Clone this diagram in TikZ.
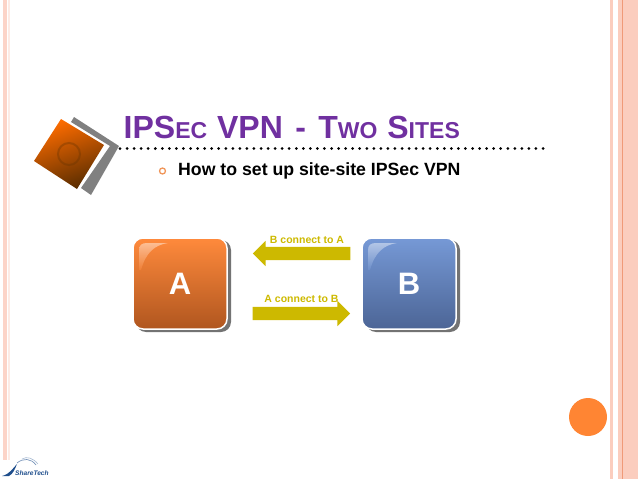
\documentclass[tikz,border=0pt]{standalone}
\usepackage{fontspec}
\setmainfont{Liberation Sans}
\usetikzlibrary{shapes.arrows,shadings,calc}
\definecolor{stripe}{HTML}{FBCDBE}
\definecolor{stripedark}{HTML}{F09A78}
\definecolor{titlepurple}{HTML}{7030A0}
\definecolor{arrowgold}{HTML}{CDB900}
\definecolor{bulletorange}{HTML}{F0965A}
\definecolor{circleorange}{HTML}{FF8533}
\definecolor{atop}{HTML}{FF8A3C}
\definecolor{abot}{HTML}{B0561F}
\definecolor{btop}{HTML}{7699D6}
\definecolor{bbot}{HTML}{4C6596}
\definecolor{logoblue}{HTML}{1F4E8C}
\newcommand{\titlelarge}{\fontsize{32}{33}\selectfont}
\newcommand{\titlesmall}{\fontsize{23}{24}\selectfont}
\tikzset{
  x=1pt,y=-1pt,
  band/.style={fill=stripe,draw=none},
  site/.style={rounded corners=10pt,draw=white,line width=1.5pt,minimum width=94pt,minimum height=91pt,font=\bfseries\fontsize{31}{31}\selectfont,text=white},
  backing/.style={fill=black!55,rounded corners=10pt},
  flow/.style={fill=arrowgold,draw=none,single arrow,minimum height=97.5pt,single arrow head extend=6pt,single arrow tip angle=90,inner sep=6.5pt},
  flowtext/.style={font=\bfseries\fontsize{10.5}{11}\selectfont,text=arrowgold,inner sep=0pt},
}
\begin{document}
\begin{tikzpicture}
\useasboundingbox (0,0) rectangle (638,479);
% stripes
\fill[stripe!85] (2.5,0) rectangle (6.5,460);
\fill[stripe!40] (8,0) rectangle (10,460);
\fill[band] (610,0) rectangle (613,479);
\fill[band] (617.5,0) rectangle (638,479);
\fill[stripedark] (621.8,0) rectangle (623,479);
% emblem
\fill[black!50] (74,117) -- (119,146) -- (91,195) -- (81,188) -- (110,146) -- (71,122) -- cycle;
\shade[left color=orange!85!red,right color=black!65!orange,shading angle=20] (61,119) -- (104,145) -- (77,189) -- (34,161) -- cycle;
\draw[black!60!orange,opacity=.35,line width=2pt] (69,154) circle (11);
% title
\node[anchor=base west,inner sep=0pt,text=titlepurple,font=\bfseries] (title) at (123.5,138.5) {\titlelarge IPS\titlesmall EC\hspace{3.5pt} \titlelarge VPN\hspace{3.5pt} -\hspace{3.5pt} T\titlesmall WO\hspace{3.5pt} \titlelarge S\titlesmall ITES};
\draw[line width=3pt,dash pattern=on 0pt off 7.05pt,line cap=round] (120,148.5) -- (545,148.5);
% bullet
\draw[bulletorange,line width=1.3pt] (162.5,171) circle (3);
\node[anchor=base west,inner sep=0pt,font=\bfseries\fontsize{17.7}{18}\selectfont] (sub) at (178,175) {How to set up site-site IPSec VPN};
% boxes
\fill[backing] (136,240) rectangle (231,332);
\node[site,top color=atop,bottom color=abot] (A) at (180,283.5) {A};
\fill[backing] (366,240) rectangle (460,332);
\node[site,top color=btop,bottom color=bbot] (B) at (409,283.5) {B};
% gloss
\shade[top color=white,bottom color=atop,opacity=.45] (139,250) .. controls (139,245) and (142,243) .. (147,243) -- (168,243) .. controls (155,245) and (146,252) .. (141,270) -- (139,270) -- cycle;
\shade[top color=white,bottom color=btop,opacity=.45] (368,250) .. controls (368,245) and (371,243) .. (376,243) -- (397,243) .. controls (384,245) and (375,252) .. (370,270) -- (368,270) -- cycle;
% arrows
\node[flow,shape border rotate=180] (arrBA) at (305,253.5) {};
\node[flow] (arrAB) at (298,313.5) {};
\node[flowtext] (tba) at (307,240) {B connect to A};
\node[flowtext] (tab) at (301.5,299) {A connect to B};
% circle
\fill[circleorange] (588,417) circle (19);
% logo
\fill[logoblue] (2,476) .. controls (10,474) and (13,468) .. (17,464) .. controls (15,469) and (13,474) .. (9,476) -- cycle;
\draw[logoblue!60,line width=.7pt] (17,463) .. controls (23,458) and (31,458) .. (36,465);
\draw[logoblue!40,line width=.6pt] (22,459) .. controls (27,456) and (33,458) .. (38,464);
\node[anchor=base west,inner sep=0pt,text=logoblue,font=\bfseries\itshape\fontsize{6.6}{7}\selectfont] (logo) at (15,475) {ShareTech};
\end{tikzpicture}
\end{document}
